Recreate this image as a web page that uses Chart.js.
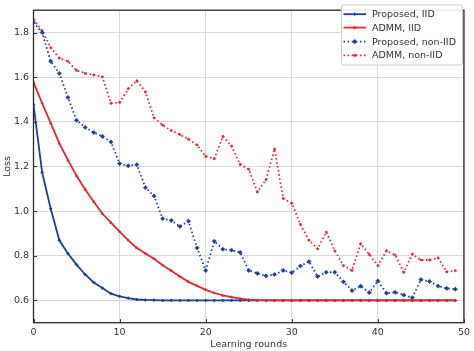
<!DOCTYPE html>
<html>
<head>
<meta charset="utf-8">
<script src="https://cdn.jsdelivr.net/npm/chart.js@4.4.1/dist/chart.umd.min.js"></script>
<style>
html,body{margin:0;padding:0;background:#fff;}
#wrap{width:474px;height:351px;position:relative;}
</style>
</head>
<body>
<div id="wrap"><canvas id="c" width="474" height="351"></canvas></div>
<script>
const rounds = Array.from({length: 50}, (_, i) => i);
const xTicks = [0, 10, 20, 30, 40, 50];
const yTicks = [0.6, 0.8, 1.0, 1.2, 1.4, 1.6, 1.8];
const labels = ["Proposed, IID", "ADMM, IID", "Proposed, non-IID", "ADMM, non-IID"];

const proposedIID = [1.477,1.174,1.01,0.869,0.81,0.76,0.716,0.68,0.655,0.63,
  0.618,0.61,0.604,0.602,0.601,0.6,0.6,0.6,0.6,0.6,
  0.6,0.6,0.6,0.6,0.6,0.6,0.6,0.6,0.6,0.6,
  0.6,0.6,0.6,0.6,0.6,0.6,0.6,0.6,0.6,0.6,
  0.6,0.6,0.6,0.6,0.6,0.6,0.6,0.6,0.6,0.6];
const admmIID = [1.577,1.483,1.394,1.303,1.228,1.158,1.097,1.042,0.988,0.948,
  0.908,0.869,0.835,0.81,0.786,0.757,0.733,0.707,0.683,0.665,
  0.647,0.633,0.622,0.615,0.608,0.603,0.601,0.6,0.6,0.6,
  0.6,0.6,0.6,0.6,0.6,0.6,0.6,0.6,0.6,0.6,
  0.6,0.6,0.6,0.6,0.6,0.6,0.6,0.6,0.6,0.6];
const proposedNonIID = [1.845,1.80,1.671,1.617,1.509,1.407,1.375,1.352,1.335,1.31,
  1.213,1.203,1.208,1.105,1.068,0.966,0.958,0.931,0.955,0.835,
  0.734,0.865,0.829,0.825,0.815,0.734,0.721,0.71,0.716,0.734,
  0.724,0.754,0.774,0.707,0.726,0.726,0.683,0.644,0.664,0.635,
  0.687,0.632,0.636,0.624,0.612,0.693,0.685,0.664,0.654,0.65];
const admmNonIID = [1.858,1.808,1.732,1.685,1.671,1.63,1.617,1.61,1.601,1.483,
  1.487,1.548,1.584,1.534,1.418,1.385,1.361,1.343,1.322,1.296,
  1.245,1.235,1.335,1.291,1.209,1.187,1.086,1.14,1.278,1.057,
  1.035,0.941,0.869,0.831,0.906,0.822,0.756,0.734,0.854,0.806,
  0.756,0.822,0.803,0.726,0.807,0.781,0.781,0.79,0.728,0.733];

const BLUE = '#1d4097';
const RED = '#e2272e';
const FONT = '"DejaVu Sans", sans-serif';
const TEXT = '#333333';

const pts = arr => arr.map((v, i) => ({x: rounds[i], y: v}));

const styles = [
  {color: BLUE, dash: [], width: 1.8, ps: 'rectRot', pr: 1.5},
  {color: RED, dash: [], width: 1.8, ps: 'triangle', pr: 1.4},
  {color: BLUE, dash: [1.5, 2.6], width: 1.8, ps: 'rectRot', pr: 2.1},
  {color: RED, dash: [1.5, 2.6], width: 1.8, ps: 'circle', pr: 1.1},
];
const series = [proposedIID, admmIID, proposedNonIID, admmNonIID];

const datasets = series.map((s, i) => ({
  label: labels[i],
  data: pts(s),
  borderColor: styles[i].color,
  backgroundColor: styles[i].color,
  borderWidth: styles[i].width,
  borderDash: styles[i].dash,
  pointStyle: styles[i].ps,
  pointRadius: styles[i].pr,
  pointBorderWidth: 0.6,
  pointBackgroundColor: styles[i].color,
  pointBorderColor: styles[i].color,
  tension: 0,
  order: i < 2 ? (i === 0 ? 1 : 0) : 2 + i
}));

const framePlugin = {
  id: 'frame',
  afterDatasetsDraw(chart) {
    const {ctx, chartArea: a, scales} = chart;
    ctx.save();
    // inward ticks
    ctx.strokeStyle = '#333';
    ctx.lineWidth = 1;
    ctx.beginPath();
    xTicks.forEach(t => {
      const x = Math.round(scales.x.getPixelForValue(t)) + 0.5;
      ctx.moveTo(x, a.bottom); ctx.lineTo(x, a.bottom - 3.5);
    });
    yTicks.forEach(t => {
      const y = Math.round(scales.y.getPixelForValue(t)) + 0.5;
      ctx.moveTo(a.left, y); ctx.lineTo(a.left + 3.5, y);
    });
    ctx.stroke();
    // frame
    ctx.strokeStyle = '#2a2a2a';
    ctx.lineWidth = 1.3;
    ctx.strokeRect(a.left, a.top, a.right - a.left, a.bottom - a.top);
    // legend
    const bx = 341.5, by = 5, bw = 121, bh = 60;
    ctx.fillStyle = 'rgba(255,255,255,0.9)';
    ctx.strokeStyle = '#cccccc';
    ctx.lineWidth = 1;
    ctx.beginPath();
    if (ctx.roundRect) ctx.roundRect(bx, by, bw, bh, 2); else ctx.rect(bx, by, bw, bh);
    ctx.fill(); ctx.stroke();
    ctx.font = '9.5px ' + FONT;
    ctx.textBaseline = 'middle';
    const rows = [14.2, 27.6, 41.6, 55.4];
    labels.forEach((lab, i) => {
      const st = styles[i];
      const y = rows[i];
      ctx.strokeStyle = st.color;
      ctx.lineWidth = st.width;
      ctx.setLineDash(st.dash);
      ctx.beginPath();
      ctx.moveTo(343.5, y); ctx.lineTo(366, y);
      ctx.stroke();
      ctx.setLineDash([]);
      ctx.lineWidth = 0.6;
      Chart.helpers.drawPoint(ctx, {pointStyle: st.ps, radius: st.pr, borderWidth: 0.6}, 354.7, y);
      ctx.fillStyle = st.color;
      ctx.fill();
      ctx.fillStyle = TEXT;
      ctx.fillText(lab, 372, y + 0.5);
    });
    // axis titles
    ctx.fillStyle = TEXT;
    ctx.font = '9.5px ' + FONT;
    ctx.textAlign = 'center';
    ctx.textBaseline = 'middle';
    ctx.fillText('Learning rounds', (a.left + a.right) / 2, 345);
    ctx.save();
    ctx.translate(7.5, (a.top + a.bottom) / 2);
    ctx.rotate(-Math.PI / 2);
    ctx.fillText('Loss', 0, 0);
    ctx.restore();
    ctx.restore();
  }
};

new Chart(document.getElementById('c'), {
  type: 'line',
  data: {datasets},
  options: {
    responsive: false,
    animation: false,
    devicePixelRatio: 1,
    layout: {padding: {left: 0, right: 7.3, top: 1, bottom: 0}},
    plugins: {legend: {display: false}, tooltip: {enabled: false}},
    scales: {
      x: {
        type: 'linear', min: 0, max: 50,
        afterBuildTicks: s => { s.ticks = xTicks.map(v => ({value: v})); },
        afterFit: s => { s.height = 28.3; },
        grid: {color: '#d9d9d9', lineWidth: 1, drawTicks: false},
        border: {display: false},
        ticks: {padding: 4, color: TEXT, font: {family: FONT, size: 9.5}, maxRotation: 0,
          callback: v => String(v)}
      },
      y: {
        type: 'linear', min: 0.5, max: 1.9,
        afterBuildTicks: s => { s.ticks = yTicks.map(v => ({value: v})); },
        afterFit: s => { s.width = 33.5; },
        grid: {color: '#d9d9d9', lineWidth: 1, drawTicks: false},
        border: {display: false},
        ticks: {padding: 4.5, color: TEXT, font: {family: FONT, size: 9.5},
          callback: v => v.toFixed(1)}
      }
    }
  },
  plugins: [framePlugin]
});
</script>
</body>
</html>
